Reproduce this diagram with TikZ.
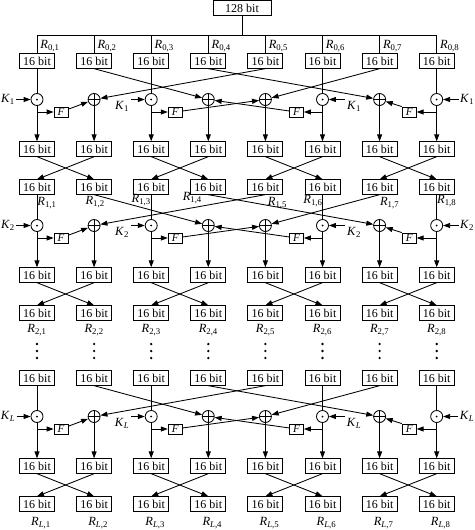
\documentclass[tikz,border=0pt]{standalone}
\usepackage{fontspec}
\setmainfont{Liberation Serif}
\usetikzlibrary{arrows.meta}

\tikzset{every picture/.style={line width=0.85pt}}
\tikzset{
	bitbox/.style={draw, minimum width=35pt, minimum height=14.5pt, inner sep=0pt, font=\fontsize{12}{13}\selectfont},
	fbox/.style={draw, minimum width=14pt, minimum height=10pt, inner sep=0pt, font=\fontsize{11}{12}\selectfont\itshape},
	mulop/.style={circle, draw, minimum size=12pt, inner sep=0pt,
		path picture={\fill (path picture bounding box.center) circle (1pt);}},
	addop/.style={circle, draw, minimum size=12pt, inner sep=0pt,
		path picture={\draw (path picture bounding box.north) -- (path picture bounding box.south)
			(path picture bounding box.west) -- (path picture bounding box.east);}},
	lbl/.style={inner sep=1pt, font=\fontsize{12.5}{14}\selectfont},
	>={Triangle[length=7pt,width=5pt]}}

\begin{document}
\begin{tikzpicture}[x=1pt,y=1pt,yscale=-1,xscale=1]
	\useasboundingbox (0,0) rectangle (474,530);

	% Shape: Rectangle, 128 bit block and bus
	\node[bitbox, minimum width=58pt] (top) at (242,8) {128 bit};
	\foreach \i in {1,...,8}
		\coordinate (j\i) at ({37+57.1*(\i-1)},35);
	\draw (top.south) -- (top.south |- j1);
	\draw (j1) -- (j8);

	% Shape: Rectangle, 16 bit rows
	\foreach \row/\y in {0/61,1/149,2/187,3/275,4/313,5/378,6/466,7/504}
		\foreach \i in {1,...,8}
			\node[bitbox] (b\row\i) at ({37+57.1*(\i-1)},\y) {16 bit};
	\foreach \i in {1,...,8}{
		\draw (j\i) -- (b0\i);
		\node[lbl, anchor=west] (r0\i) at ({39+57.1*(\i-1)},46) {\textit{R}\textsubscript{0,\i}};
	}

	% rounds
	\foreach \r/\up/\md/\dn/\k/\yo in {1/0/1/2/1/99.5, 2/2/3/4/2/225.5, 3/5/6/7/{\textit{L}}/416.5}{
		\foreach \i/\op in {1/mulop,2/addop,3/mulop,4/addop,5/addop,6/mulop,7/addop,8/mulop}
			\node[\op] (o\r\i) at ({37+57.1*(\i-1)},\yo) {};
		\foreach \i/\dx in {1/24,3/24,6/-26,8/-27.5}{
			\node[fbox] (f\r\i) at ({37+57.1*(\i-1)+\dx},\yo+12.5) {F};
			\coordinate (p\r\i) at ({37+57.1*(\i-1)},\yo+12.5);
			\draw (b\up\i) -- (o\r\i);
			\draw[->] (o\r\i) -- (b\md\i);
			\draw[->] (p\r\i) -- (f\r\i);
		}
		\foreach \i in {2,4,5,7}
			\draw[->] (o\r\i) -- (b\md\i);
		\foreach \a/\b in {5/2,2/4,7/5,4/7}
			\draw[->] (b\up\a.south) -- (o\r\b);
		\draw[->] (f\r1) -- (o\r2);
		\draw[->] (f\r3) -- (o\r5);
		\draw[->] (f\r6) -- (o\r4);
		\draw[->] (f\r8.north west) -- (o\r7);
		\foreach \a/\b in {1/2,2/1,3/4,4/3,5/6,6/5,7/8,8/7}
			\draw[->] (b\md\a.south) -- (b\dn\b.north);

		% Text Node, keys
		\node[lbl] (k\r1) at (8,\yo) {\textit{K}\textsubscript{\k}};
		\draw[->] (k\r1) -- (o\r1);
		\coordinate (t\r3) at (131,\yo);
		\node[lbl] (k\r3) at (122,\yo+7) {\textit{K}\textsubscript{\k}};
		\draw[->] (t\r3) -- (o\r3);
		\coordinate (t\r6) at (345,\yo);
		\node[lbl] (k\r6) at (354,\yo+7) {\textit{K}\textsubscript{\k}};
		\draw[->] (t\r6) -- (o\r6);
		\node[lbl] (k\r8) at (467,\yo) {\textit{K}\textsubscript{\k}};
		\draw[->] (k\r8) -- (o\r8);
	}

	% Text Node, round outputs
	\foreach \i/\dx/\y in {1/10/203,2/1/202,3/-10/200,4/-16/198,5/12/203,6/-9.5/201,7/10/203,8/10/201}
		\node[lbl] (r1\i) at ({37+57.1*(\i-1)+\dx},\y) {\textit{R}\textsubscript{1,\i}};
	\foreach \i in {1,...,8}{
		\node[lbl] (r2\i) at ({37+57.1*(\i-1)},330) {\textit{R}\textsubscript{2,\i}};
		\node[lbl] (rl\i) at ({41+57.1*(\i-1)},523) {\textit{R}\textsubscript{\textit{L},\i}};
		\foreach \d in {344,351,358}
			\fill ({37+57.1*(\i-1)},\d) circle (1.3);
	}

\end{tikzpicture}
\end{document}
